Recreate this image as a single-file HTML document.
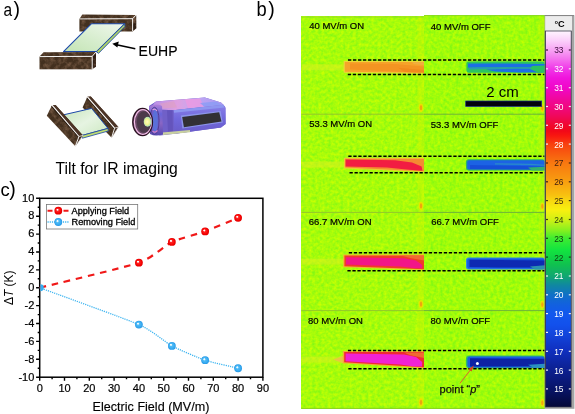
<!DOCTYPE html>
<html><head><meta charset="utf-8"><style>
html,body{margin:0;padding:0;background:#fff;width:575px;height:414px;overflow:hidden}
svg{display:block}
text{font-family:"Liberation Sans",sans-serif}
</style></head><body>
<svg width="575" height="414" viewBox="0 0 575 414">
<defs>
<linearGradient id="cbar" gradientUnits="userSpaceOnUse" x1="0" y1="31.4" x2="0" y2="406.7"><stop offset="0.0000" stop-color="#fff4ff"/><stop offset="0.0245" stop-color="#fbd0fa"/><stop offset="0.0496" stop-color="#f7a4f3"/><stop offset="0.0746" stop-color="#f470ee"/><stop offset="0.0997" stop-color="#f038e8"/><stop offset="0.1242" stop-color="#f014dc"/><stop offset="0.1508" stop-color="#f008c8"/><stop offset="0.1828" stop-color="#f00898"/><stop offset="0.2014" stop-color="#f00880"/><stop offset="0.2228" stop-color="#f00860"/><stop offset="0.2494" stop-color="#f00830"/><stop offset="0.2654" stop-color="#f20818"/><stop offset="0.2787" stop-color="#f81810"/><stop offset="0.3000" stop-color="#f84010"/><stop offset="0.3293" stop-color="#f86010"/><stop offset="0.3507" stop-color="#f87810"/><stop offset="0.3826" stop-color="#f89010"/><stop offset="0.4013" stop-color="#f8a010"/><stop offset="0.4359" stop-color="#f8c010"/><stop offset="0.4519" stop-color="#f8d810"/><stop offset="0.4759" stop-color="#f8f010"/><stop offset="0.4999" stop-color="#d4f014"/><stop offset="0.5185" stop-color="#a4f01c"/><stop offset="0.5318" stop-color="#80f020"/><stop offset="0.5505" stop-color="#40ec30"/><stop offset="0.5825" stop-color="#12e440"/><stop offset="0.6011" stop-color="#10d444"/><stop offset="0.6224" stop-color="#10c050"/><stop offset="0.6517" stop-color="#10a870"/><stop offset="0.6757" stop-color="#1088a0"/><stop offset="0.7024" stop-color="#1070c8"/><stop offset="0.7290" stop-color="#1260e0"/><stop offset="0.7530" stop-color="#1258ee"/><stop offset="0.7823" stop-color="#1250ec"/><stop offset="0.8010" stop-color="#1248e0"/><stop offset="0.8489" stop-color="#1030c0"/><stop offset="0.9022" stop-color="#0c2090"/><stop offset="0.9528" stop-color="#081468"/><stop offset="1.0000" stop-color="#040838"/></linearGradient>
<radialGradient id="rball" cx="0.5" cy="0.5" r="0.5" fx="0.36" fy="0.34">
  <stop offset="0" stop-color="#ffffff"/><stop offset="0.14" stop-color="#ffffff"/>
  <stop offset="0.34" stop-color="#ff2424"/><stop offset="0.8" stop-color="#f40000"/><stop offset="1" stop-color="#e00000"/></radialGradient>
<radialGradient id="bball" cx="0.5" cy="0.5" r="0.5" fx="0.36" fy="0.34">
  <stop offset="0" stop-color="#ffffff"/><stop offset="0.14" stop-color="#f0faff"/>
  <stop offset="0.36" stop-color="#50bcf6"/><stop offset="0.8" stop-color="#34a8f0"/><stop offset="1" stop-color="#2496e4"/></radialGradient>
<filter id="marble" x="0" y="0" width="1" height="1" color-interpolation-filters="sRGB">
  <feTurbulence type="fractalNoise" baseFrequency="0.22" numOctaves="3" seed="7" result="n"/>
  <feColorMatrix in="n" type="matrix" values="0 0 0 0 0.50  0 0 0 0 0.38  0 0 0 0 0.29  1.9 0 0 0 -0.75" result="spots"/>
  <feComposite in="spots" in2="SourceGraphic" operator="atop"/>
</filter>
<filter id="soft" x="-5%" y="-5%" width="110%" height="110%"><feGaussianBlur stdDeviation="0.55"/></filter>
<filter id="tnoiseR" x="0" y="0" width="1" height="1" color-interpolation-filters="sRGB">
  <feTurbulence type="fractalNoise" baseFrequency="0.32" numOctaves="2" seed="3"/>
  <feColorMatrix type="matrix" values="0.4 0 0 0 0.43  0.05 0 0 0 0.965  -0.1 0 0 0 0.09  0 0 0 0 1"/>
</filter>
<filter id="tnoiseL" x="0" y="0" width="1" height="1" color-interpolation-filters="sRGB">
  <feTurbulence type="fractalNoise" baseFrequency="0.32" numOctaves="2" seed="11"/>
  <feColorMatrix type="matrix" values="0.4 0 0 0 0.455  0.05 0 0 0 0.965  -0.1 0 0 0 0.09  0 0 0 0 1"/>
</filter>
<linearGradient id="plateg" x1="1" y1="0" x2="0" y2="1">
  <stop offset="0" stop-color="#f0f8ee"/><stop offset="0.6" stop-color="#d4ecca"/><stop offset="1" stop-color="#c4e4b4"/></linearGradient>
<linearGradient id="plateg2" x1="0" y1="0" x2="1" y2="1">
  <stop offset="0" stop-color="#c8e6bc"/><stop offset="0.5" stop-color="#e6f4e2"/><stop offset="1" stop-color="#cce8c0"/></linearGradient>
<linearGradient id="camtop" x1="0" y1="0" x2="1" y2="0">
  <stop offset="0" stop-color="#b890e8"/><stop offset="0.35" stop-color="#e0a0e0"/><stop offset="0.6" stop-color="#c0a8f4"/><stop offset="1" stop-color="#a898f0"/></linearGradient>
<linearGradient id="camside" x1="0" y1="0" x2="0" y2="1">
  <stop offset="0" stop-color="#8a80e8"/><stop offset="0.5" stop-color="#7068dc"/><stop offset="1" stop-color="#6a5cc8"/></linearGradient>
<linearGradient id="cambar" x1="0" y1="0" x2="0" y2="1">
  <stop offset="0" stop-color="#b080d8"/><stop offset="0.3" stop-color="#6a64d8"/><stop offset="0.6" stop-color="#8a66c4"/><stop offset="1" stop-color="#5448b0"/></linearGradient>
<radialGradient id="lensglow" cx="0.45" cy="0.5" r="0.55">
  <stop offset="0" stop-color="#fcfcc0"/><stop offset="0.5" stop-color="#f4f490"/><stop offset="0.85" stop-color="#b0e0b0"/><stop offset="1" stop-color="#70b0a0"/></radialGradient>
</defs>
<g fill="#000">
<text x="3.4" y="16.2" font-size="18" textLength="8.6" lengthAdjust="spacingAndGlyphs">a</text>
<text x="13.6" y="16.2" font-size="19.5">)</text>
<text x="256.5" y="15.6" font-size="19.6" textLength="10.2" lengthAdjust="spacingAndGlyphs">b</text>
<text x="268.2" y="15.6" font-size="19.5">)</text>
<text x="0.5" y="196" font-size="18" textLength="9.2" lengthAdjust="spacingAndGlyphs">c</text>
<text x="9.3" y="196" font-size="19.5">)</text>
</g>
<g id="thermal">
<rect x="424" y="15.3" width="120.70000000000005" height="393.5" fill="#a2fa06" filter="url(#tnoiseR)"/>
<rect x="301.5" y="16.6" width="122.5" height="392.2" fill="#aef806" filter="url(#tnoiseL)"/>
<rect x="301.5" y="16.6" width="122.5" height="0.8" fill="#90d82a"/>
<rect x="424" y="15.3" width="120.70000000000005" height="0.8" fill="#84d02a"/>
<rect x="301.5" y="407.90000000000003" width="243.20000000000005" height="0.9" fill="#88cc24"/>
<rect x="301.5" y="113.7" width="122.5" height="1" fill="#94c82c"/>
<rect x="424" y="113.7" width="120.70000000000005" height="1" fill="#70b43a"/>
<rect x="301.5" y="211.9" width="122.5" height="1" fill="#94c82c"/>
<rect x="424" y="211.9" width="120.70000000000005" height="1" fill="#70b43a"/>
<rect x="301.5" y="310.1" width="122.5" height="1" fill="#94c82c"/>
<rect x="424" y="310.1" width="120.70000000000005" height="1" fill="#70b43a"/>
<g filter="url(#soft)">
<rect x="417.5" y="17.6" width="6.5" height="95.6" fill="#d8f400" opacity="0.35"/>
<ellipse cx="421" cy="107.7" rx="2.2" ry="4.2" fill="#f0e000" opacity="0.9"/>
<ellipse cx="421" cy="107.7" rx="1.2" ry="2.6" fill="#f0a010" opacity="0.9"/>
<rect x="538.5" y="17.6" width="6.2" height="95.6" fill="#d8f400" opacity="0.25"/>
<ellipse cx="542.3" cy="108.2" rx="2" ry="4" fill="#f0e000" opacity="0.9"/>
<ellipse cx="542.3" cy="108.2" rx="1.1" ry="2.4" fill="#f0a010" opacity="0.9"/>
<rect x="417.5" y="115.2" width="6.5" height="96.2" fill="#d8f400" opacity="0.35"/>
<ellipse cx="421" cy="205.9" rx="2.2" ry="4.2" fill="#f0e000" opacity="0.9"/>
<ellipse cx="421" cy="205.9" rx="1.2" ry="2.6" fill="#f0a010" opacity="0.9"/>
<rect x="538.5" y="115.2" width="6.2" height="96.2" fill="#d8f400" opacity="0.25"/>
<ellipse cx="542.3" cy="206.4" rx="2" ry="4" fill="#f0e000" opacity="0.9"/>
<ellipse cx="542.3" cy="206.4" rx="1.1" ry="2.4" fill="#f0a010" opacity="0.9"/>
<rect x="417.5" y="213.4" width="6.5" height="96.2" fill="#d8f400" opacity="0.35"/>
<ellipse cx="421" cy="304.1" rx="2.2" ry="4.2" fill="#f0e000" opacity="0.9"/>
<ellipse cx="421" cy="304.1" rx="1.2" ry="2.6" fill="#f0a010" opacity="0.9"/>
<rect x="538.5" y="213.4" width="6.2" height="96.2" fill="#d8f400" opacity="0.25"/>
<ellipse cx="542.3" cy="304.6" rx="2" ry="4" fill="#f0e000" opacity="0.9"/>
<ellipse cx="542.3" cy="304.6" rx="1.1" ry="2.4" fill="#f0a010" opacity="0.9"/>
<rect x="417.5" y="311.6" width="6.5" height="96.2" fill="#d8f400" opacity="0.35"/>
<ellipse cx="421" cy="402.3" rx="2.2" ry="4.2" fill="#f0e000" opacity="0.9"/>
<ellipse cx="421" cy="402.3" rx="1.2" ry="2.6" fill="#f0a010" opacity="0.9"/>
<rect x="538.5" y="311.6" width="6.2" height="96.2" fill="#d8f400" opacity="0.25"/>
<ellipse cx="542.3" cy="402.8" rx="2" ry="4" fill="#f0e000" opacity="0.9"/>
<ellipse cx="542.3" cy="402.8" rx="1.1" ry="2.4" fill="#f0a010" opacity="0.9"/>
<rect x="301.5" y="64.3" width="44" height="6" fill="#d8f020" opacity="0.55"/>
<rect x="301.5" y="161.6" width="44" height="6" fill="#d8f020" opacity="0.55"/>
<rect x="301.5" y="258.7" width="44" height="6" fill="#d8f020" opacity="0.55"/>
<rect x="301.5" y="356.6" width="44" height="6" fill="#d8f020" opacity="0.55"/>
</g>
<g filter="url(#soft)">
<!-- Row 1 ON (orange) -->
<polygon points="343.6,60.9 424,60.9 424,73.8 343.6,72.8" fill="#ecd838"/>
<polygon points="344.8,62 424,62 424,72.8 344.8,71.8" fill="#f6a42c"/>
<polygon points="350,63.4 395,64 424,66.5 424,72.4 410,72.2 350,69.6" fill="#f49422"/>
<polygon points="398,67.8 424,70 424,72.4 405,72" fill="#f08a1c"/>
<polygon points="412,62.2 424,62.2 424,65.2 414,64" fill="#f0b040"/>
<!-- Row 1 OFF (teal/blue) -->
<rect x="466.4" y="61.5" width="78.3" height="11.3" rx="2.5" fill="#2cc460"/>
<polygon points="468,63.6 505,63.4 545,64 545,67.4 505,67.2 468,67.8" fill="#1c6ee6"/>
<polygon points="469,67.6 505,67.2 545,67.4 545,69 505,68.8 469,69.4" fill="#2a9cb0"/>
<polygon points="486,69.4 515,68.8 545,69 545,72.2 520,72.4 495,71.6" fill="#1c6ee6"/>
<polygon points="532,66 545,65.6 545,72.6 538,72.6 530,69" fill="#2cc060"/>
<!-- Row 2 ON (red) -->
<polygon points="344,157.8 424,157.8 424,172 344,168.6" fill="#f0c838"/>
<polygon points="345.2,158.8 424,158.8 424,171.2 345.2,167.6" fill="#f48a30"/>
<polygon points="345.6,159.4 395,160.2 412,162.4 421.6,166.4 422.4,170.8 409,169.8 387,167.6 345.6,166.4" fill="#f21c42"/>
<!-- Row 2 OFF (blue) -->
<rect x="466" y="159.2" width="78.7" height="11.2" rx="2.5" fill="#2cb070"/>
<rect x="467.2" y="160.2" width="77.5" height="9.4" rx="1.8" fill="#1a64e4"/>
<polygon points="470,165 500,165.6 545,166.4 545,169.6 470,169" fill="#1450d8"/>
<polygon points="495,163.2 530,163.8 545,164.8 545,165.8 530,165 495,164.6" fill="#2c8cc8"/>
<polygon points="528,167.4 545,166.8 545,170.4 532,170.4" fill="#30b070"/>
<!-- Row 3 ON (pink) -->
<polygon points="343.2,254.4 424,254.4 424,270 343.2,267.2" fill="#f2b834"/>
<polygon points="344.4,255.6 424,255.6 424,269.2 344.4,266.2" fill="#f03c28"/>
<polygon points="402,255.8 424,256 424,260.6 410,258" fill="#f06a30"/>
<polygon points="346,257.2 404,258.2 416,260.6 422.2,265 422,268.2 415,268.2 400,266.6 346,264.4" fill="#f21688"/>
<!-- Row 3 OFF (dark blue) -->
<rect x="466" y="257.4" width="78.7" height="12" rx="2.5" fill="#2a8ae0"/>
<rect x="467.2" y="258.4" width="77.5" height="10.2" rx="2" fill="#1654e0"/>
<polygon points="469.5,259.8 500,260 545,260.6 545,267.4 500,267.6 469.5,267" fill="#0a2cb2"/>
<polygon points="530,266.4 545,265.2 545,269.4 535,269.4" fill="#2a90b0"/>
<!-- Row 4 ON (magenta) -->
<polygon points="333,359.4 344,355.4 344,363.4" fill="#e8c840"/>
<polygon points="342.8,351 424,351 424,368.2 342.8,363.2" fill="#f2ac34"/>
<polygon points="344.2,352 424,352 424,367.3 344.2,362.2" fill="#f02a30"/>
<polygon points="404,352.4 424,352.6 424,358 410,355.2" fill="#f06a30"/>
<polygon points="345.6,353.6 404,354.4 416,357 422.2,362 422,366.4 414,366.4 400,364.6 345.6,361.2" fill="#f024d4"/>
<!-- Row 4 OFF (navy) -->
<rect x="466" y="355.4" width="78.7" height="12.8" rx="3" fill="#30b870"/>
<rect x="467.4" y="356.4" width="77.3" height="11" rx="2.5" fill="#1a5ce2"/>
<polygon points="470,358.2 500,358.4 545,358.8 545,366.2 500,366.6 470,366.4" fill="#0822a4"/>
<polygon points="528,364.8 545,363.8 545,368 534,368" fill="#2a90c0"/>
</g><circle cx="477.4" cy="363.4" r="1.5" fill="#fff"/>
<g font-size="9.5" fill="#000" stroke="#000" stroke-width="0.2">
<text x="309.2" y="29.4">40 MV/m ON</text>
<text x="430.8" y="29.6">40 MV/m OFF</text>
<text x="309.2" y="127.3">53.3 MV/m ON</text>
<text x="430.8" y="127.5">53.3 MV/m OFF</text>
<text x="308.8" y="225">66.7 MV/m ON</text>
<text x="431.2" y="225">66.7 MV/m OFF</text>
<text x="308" y="323.7">80 MV/m ON</text>
<text x="430.5" y="323.7">80 MV/m OFF</text>
</g>
<g stroke="#000" stroke-width="1.5" stroke-dasharray="3.3 1.7" fill="none">
<line x1="348" y1="60.1" x2="544.7" y2="60.1"/>
<line x1="347.8" y1="74.6" x2="544.7" y2="74.6"/>
<line x1="348.3" y1="156.3" x2="544.7" y2="156.3"/>
<line x1="349.5" y1="172.8" x2="544.7" y2="172.8"/>
<line x1="348.8" y1="252.7" x2="544.7" y2="252.7"/>
<line x1="347.4" y1="270.7" x2="544.7" y2="270.7"/>
<line x1="347.9" y1="350.5" x2="544.7" y2="350.5"/>
<line x1="348.3" y1="368.7" x2="544.7" y2="368.7"/>
</g>
<text x="486.3" y="97.3" font-size="15" fill="#000">2 cm</text>
<rect x="465.7" y="101" width="76" height="5.4" fill="#02020e" stroke="#1a2a90" stroke-width="0.7"/>
<line x1="460" y1="383.3" x2="471.5" y2="368.5" stroke="#e06030" stroke-width="1"/>
<polygon points="474,365.6 468.5,369 471.5,371.5" fill="#e04020"/>
<text x="439.6" y="392.5" font-size="11" fill="#111" stroke="#111" stroke-width="0.25">point “<tspan font-style="italic">p</tspan>”</text>
</g>
<g id="colorbar">
<rect x="544.6" y="15.2" width="29.8" height="393.6" fill="#a4a4a4"/>
<rect x="544.6" y="15.2" width="29.3" height="0.9" fill="#7a7a7a"/>
<rect x="545.2" y="16.1" width="26.8" height="14.6" fill="#ececec"/>
<text x="559.6" y="27" font-size="9.2" font-weight="bold" text-anchor="middle" fill="#000">°C</text>
<rect x="544.8" y="30.7" width="26.8" height="376.6" fill="#3c3c4c"/>
<rect x="545.9" y="31.4" width="24.9" height="375.3" fill="url(#cbar)"/>
<g font-size="8.4" text-anchor="middle">
<text x="558.8" y="53.4" fill="#401040">33</text>
<rect x="546" y="49.4" width="2" height="1.2" fill="#401040"/><rect x="568.8" y="49.4" width="2" height="1.2" fill="#401040"/>
<text x="558.8" y="72.2" fill="#ffffff">32</text>
<rect x="546" y="68.2" width="2" height="1.2" fill="#f0f0f0"/><rect x="568.8" y="68.2" width="2" height="1.2" fill="#f0f0f0"/>
<text x="558.8" y="91.1" fill="#ffffff">31</text>
<rect x="546" y="87.1" width="2" height="1.2" fill="#f0f0f0"/><rect x="568.8" y="87.1" width="2" height="1.2" fill="#f0f0f0"/>
<text x="558.8" y="109.9" fill="#ffffff">30</text>
<rect x="546" y="105.9" width="2" height="1.2" fill="#f0f0f0"/><rect x="568.8" y="105.9" width="2" height="1.2" fill="#f0f0f0"/>
<text x="558.8" y="128.7" fill="#ffffff">29</text>
<rect x="546" y="124.7" width="2" height="1.2" fill="#f0f0f0"/><rect x="568.8" y="124.7" width="2" height="1.2" fill="#f0f0f0"/>
<text x="558.8" y="147.5" fill="#ffffff">28</text>
<rect x="546" y="143.5" width="2" height="1.2" fill="#f0f0f0"/><rect x="568.8" y="143.5" width="2" height="1.2" fill="#f0f0f0"/>
<text x="558.8" y="166.4" fill="#402010">27</text>
<rect x="546" y="162.4" width="2" height="1.2" fill="#402010"/><rect x="568.8" y="162.4" width="2" height="1.2" fill="#402010"/>
<text x="558.8" y="185.2" fill="#402010">26</text>
<rect x="546" y="181.2" width="2" height="1.2" fill="#402010"/><rect x="568.8" y="181.2" width="2" height="1.2" fill="#402010"/>
<text x="558.8" y="204.0" fill="#403010">25</text>
<rect x="546" y="200.0" width="2" height="1.2" fill="#403010"/><rect x="568.8" y="200.0" width="2" height="1.2" fill="#403010"/>
<text x="558.8" y="222.9" fill="#304010">24</text>
<rect x="546" y="218.9" width="2" height="1.2" fill="#304010"/><rect x="568.8" y="218.9" width="2" height="1.2" fill="#304010"/>
<text x="558.8" y="241.7" fill="#104010">23</text>
<rect x="546" y="237.7" width="2" height="1.2" fill="#104010"/><rect x="568.8" y="237.7" width="2" height="1.2" fill="#104010"/>
<text x="558.8" y="260.5" fill="#104010">22</text>
<rect x="546" y="256.5" width="2" height="1.2" fill="#104010"/><rect x="568.8" y="256.5" width="2" height="1.2" fill="#104010"/>
<text x="558.8" y="279.4" fill="#ffffff">21</text>
<rect x="546" y="275.4" width="2" height="1.2" fill="#f0f0f0"/><rect x="568.8" y="275.4" width="2" height="1.2" fill="#f0f0f0"/>
<text x="558.8" y="298.2" fill="#ffffff">20</text>
<rect x="546" y="294.2" width="2" height="1.2" fill="#f0f0f0"/><rect x="568.8" y="294.2" width="2" height="1.2" fill="#f0f0f0"/>
<text x="558.8" y="317.0" fill="#ffffff">19</text>
<rect x="546" y="313.0" width="2" height="1.2" fill="#f0f0f0"/><rect x="568.8" y="313.0" width="2" height="1.2" fill="#f0f0f0"/>
<text x="558.8" y="335.8" fill="#ffffff">18</text>
<rect x="546" y="331.8" width="2" height="1.2" fill="#f0f0f0"/><rect x="568.8" y="331.8" width="2" height="1.2" fill="#f0f0f0"/>
<text x="558.8" y="354.7" fill="#ffffff">17</text>
<rect x="546" y="350.7" width="2" height="1.2" fill="#f0f0f0"/><rect x="568.8" y="350.7" width="2" height="1.2" fill="#f0f0f0"/>
<text x="558.8" y="373.5" fill="#ffffff">16</text>
<rect x="546" y="369.5" width="2" height="1.2" fill="#f0f0f0"/><rect x="568.8" y="369.5" width="2" height="1.2" fill="#f0f0f0"/>
<text x="558.8" y="392.3" fill="#ffffff">15</text>
<rect x="546" y="388.3" width="2" height="1.2" fill="#f0f0f0"/><rect x="568.8" y="388.3" width="2" height="1.2" fill="#f0f0f0"/>
</g>
</g>
<g id="illus">
<g filter="url(#marble)"><polygon points="82.3,14.6 136.2,15 132.6,18.7 79.4,18.9" fill="#43301f"/><rect x="79.4" y="18.9" width="53.2" height="12.6" fill="#43301f"/><polygon points="132.6,18.7 136.2,15 136.4,28.2 132.6,31.5" fill="#2e1e14"/></g>
<polyline points="79.6,18.9 132.6,18.7 132.6,31" fill="none" stroke="#fff" stroke-width="0.9"/>
<line x1="132.6" y1="18.7" x2="136.2" y2="15" stroke="#fff" stroke-width="0.9"/>
<polygon points="91.5,23.7 124.8,23.7 96.6,51.6 63.5,51.6" fill="url(#plateg)" stroke="#1c48a8" stroke-width="1.1" stroke-linejoin="round"/>
<polygon points="124.8,23.7 124.9,26.6 98.4,53.4 96.6,51.6" fill="#b4d864" stroke="#1c48a8" stroke-width="0.9" stroke-linejoin="round"/>
<g filter="url(#marble)"><polygon points="43.5,52.3 96,52 92.2,56.3 39.5,56.6" fill="#43301f"/><rect x="39.5" y="56.6" width="52.7" height="12.7" fill="#43301f"/><polygon points="92.2,56.3 96,52 96,66.8 92.2,69.3" fill="#2e1e14"/></g>
<polyline points="39.7,56.6 92.2,56.3 92.2,69" fill="none" stroke="#fff" stroke-width="0.9"/>
<line x1="92.2" y1="56.3" x2="96" y2="52" stroke="#fff" stroke-width="0.9"/>
<line x1="135.3" y1="48.8" x2="116.5" y2="44.7" stroke="#000" stroke-width="1.5"/>
<polygon points="112.3,43.8 118.8,41.6 117.4,47.6" fill="#000"/>
<text x="138.6" y="56.4" font-size="14" fill="#000" stroke="#000" stroke-width="0.15">EUHP</text>
<g filter="url(#marble)"><polygon points="90.80,96.40 118.40,127.00 111.60,137.80 82.60,107.60 87.40,96.80" fill="#43301f"/></g><polygon points="90.80,96.40 118.40,127.00 114.60,128.20 87.40,96.80" fill="#4c3426"/><polygon points="114.60,128.20 118.40,127.00 111.60,137.80" fill="#3a2619"/><line x1="86.85" y1="97.90" x2="114.05" y2="128.70" stroke="#140a04" stroke-width="0.8"/><line x1="87.40" y1="96.80" x2="114.60" y2="128.20" stroke="#fff" stroke-width="1.05"/><line x1="114.60" y1="128.20" x2="111.60" y2="137.80" stroke="#fff" stroke-width="0.95"/><line x1="114.60" y1="128.20" x2="118.40" y2="127.00" stroke="#f0ece8" stroke-width="0.8"/><line x1="118.40" y1="127.00" x2="111.60" y2="137.80" stroke="#e8e4e0" stroke-width="0.6"/>
<polygon points="63.6,114.8 91.6,108.4 108,128.4 81.6,135.6" fill="url(#plateg2)" stroke="#1c48a8" stroke-width="1" stroke-linejoin="round"/>
<polygon points="81.6,135.6 108,128.4 108.3,131 82.4,138.2" fill="#c0dc70" stroke="#1c48a8" stroke-width="0.8" stroke-linejoin="round"/>
<g filter="url(#marble)"><polygon points="55.60,105.00 83.00,135.40 75.30,146.30 46.80,115.70 52.00,105.20" fill="#43301f"/></g><polygon points="55.60,105.00 83.00,135.40 79.00,136.50 52.00,105.20" fill="#4c3426"/><polygon points="79.00,136.50 83.00,135.40 75.30,146.30" fill="#3a2619"/><line x1="51.45" y1="106.30" x2="78.45" y2="137.00" stroke="#140a04" stroke-width="0.8"/><line x1="52.00" y1="105.20" x2="79.00" y2="136.50" stroke="#fff" stroke-width="1.05"/><line x1="79.00" y1="136.50" x2="75.30" y2="146.30" stroke="#fff" stroke-width="0.95"/><line x1="79.00" y1="136.50" x2="83.00" y2="135.40" stroke="#f0ece8" stroke-width="0.8"/><line x1="83.00" y1="135.40" x2="75.30" y2="146.30" stroke="#e8e4e0" stroke-width="0.6"/>
<polygon points="149,106 156,101.5 204.8,97.6 221,102.6 225.2,107 225.6,124 221,127.5 177,133.6 160,135.4 150,131" fill="#6c5cc8"/>
<polygon points="156,101.5 204.8,97.6 221,102.6 223.6,104.8 173.5,110.2 160,109.5 153,104.5" fill="url(#camtop)"/>
<polygon points="173.5,110.2 223.6,104.8 225.6,108 225.6,124 221,127.5 176.5,133.4 173.5,132" fill="url(#camside)"/>
<polygon points="185,99.6 200,98.4 204,106.4 188,108.2" fill="#f098e0" opacity="0.75"/>
<polygon points="200,103 216,101.4 222,104.9 204,106.4" fill="#8c9cf4" opacity="0.85"/>
<polygon points="160,103.4 174,101.2 177,107.6 163,108.6" fill="#e0a0c0" opacity="0.6"/>
<polygon points="173.5,110.2 223.6,104.8 224.4,107.4 174,112.8" fill="#8e96f0"/>
<polygon points="180.8,115.6 220.6,111 222.8,122.6 182.4,128.6" fill="#8c94e8"/>
<polygon points="182.2,116.9 219.2,112.3 221.5,121.5 183.9,127.3" fill="#323034"/>
<polygon points="158,110 173.5,110.2 173.5,132.5 160,134" fill="#7060c8"/>
<polygon points="167,110.2 172.5,110.2 173,132.8 168,133.4" fill="#6454bc"/>
<polygon points="162,132.6 190,130 190,132.2 163,135" fill="#c8d0a0"/>
<path d="M149,106.5 Q156,103 162,106 L163,134 Q156,137 150,134 Z" fill="url(#cambar)"/>
<ellipse cx="154.5" cy="120.8" rx="4.6" ry="13.6" fill="#6c5cc8" stroke="#3a2c70" stroke-width="0.6"/>
<ellipse cx="155.2" cy="120.8" rx="2.6" ry="11.4" fill="#5a70d8"/>
<path d="M152.6,110 Q155,108 157,111" stroke="#e0a0e0" stroke-width="1.2" fill="none"/>
<path d="M152.6,131 Q155,133.5 157.5,130.5" stroke="#d080c8" stroke-width="1.2" fill="none"/>
<ellipse cx="142.6" cy="122" rx="9.9" ry="13.7" fill="#6a4a66" stroke="#2a1020" stroke-width="1.2"/>
<ellipse cx="142.9" cy="122" rx="8.5" ry="12.3" fill="none" stroke="#f2bce6" stroke-width="1.2"/>
<ellipse cx="144" cy="122" rx="7.2" ry="10.8" fill="#4c3a4a"/>
<ellipse cx="147.6" cy="121.8" rx="3.9" ry="5" fill="url(#lensglow)"/>
<text x="55.5" y="173.9" font-size="15.7" fill="#000">Tilt for IR imaging</text>
</g>
<g id="chart">
<path d="M39.70,377.20h-3.6M39.70,368.25h-2.0M39.70,359.31h-3.6M39.70,350.37h-2.0M39.70,341.42h-3.6M39.70,332.48h-2.0M39.70,323.53h-3.6M39.70,314.58h-2.0M39.70,305.64h-3.6M39.70,296.69h-2.0M39.70,287.75h-3.6M39.70,278.81h-2.0M39.70,269.86h-3.6M39.70,260.92h-2.0M39.70,251.97h-3.6M39.70,243.03h-2.0M39.70,234.08h-3.6M39.70,225.14h-2.0M39.70,216.19h-3.6M39.70,207.25h-2.0M39.70,198.30h-3.6M39.70,377.20v3.6M52.10,377.20v2.0M64.50,377.20v3.6M76.90,377.20v2.0M89.30,377.20v3.6M101.70,377.20v2.0M114.10,377.20v3.6M126.50,377.20v2.0M138.90,377.20v3.6M151.30,377.20v2.0M163.70,377.20v3.6M176.10,377.20v2.0M188.50,377.20v3.6M200.90,377.20v2.0M213.30,377.20v3.6M225.70,377.20v2.0M238.10,377.20v3.6M250.50,377.20v2.0M262.90,377.20v3.6" stroke="#000" stroke-width="1.4" fill="none"/>
<rect x="39.70" y="198.30" width="223.20" height="178.90" fill="none" stroke="#000" stroke-width="1.5"/>
<g font-size="11" fill="#000" stroke="#000" stroke-width="0.2"><text x="34.3" y="380.50" text-anchor="end">-10</text><text x="34.3" y="362.61" text-anchor="end">-8</text><text x="34.3" y="344.72" text-anchor="end">-6</text><text x="34.3" y="326.83" text-anchor="end">-4</text><text x="34.3" y="308.94" text-anchor="end">-2</text><text x="34.3" y="291.05" text-anchor="end">0</text><text x="34.3" y="273.16" text-anchor="end">2</text><text x="34.3" y="255.27" text-anchor="end">4</text><text x="34.3" y="237.38" text-anchor="end">6</text><text x="34.3" y="219.49" text-anchor="end">8</text><text x="34.3" y="201.60" text-anchor="end">10</text><text x="39.70" y="392" text-anchor="middle">0</text><text x="64.50" y="392" text-anchor="middle">10</text><text x="89.30" y="392" text-anchor="middle">20</text><text x="114.10" y="392" text-anchor="middle">30</text><text x="138.90" y="392" text-anchor="middle">40</text><text x="163.70" y="392" text-anchor="middle">50</text><text x="188.50" y="392" text-anchor="middle">60</text><text x="213.30" y="392" text-anchor="middle">70</text><text x="238.10" y="392" text-anchor="middle">80</text><text x="262.90" y="392" text-anchor="middle">90</text></g>
<path d="M39.70,287.75 C49.62,285.25 125.68,267.28 138.90,262.70 C152.12,258.12 165.26,245.08 171.88,241.95 C178.51,238.82 198.49,233.81 205.12,231.40 C211.74,228.98 234.80,219.16 238.10,217.80" fill="none" stroke="#f01818" stroke-width="2.2" stroke-dasharray="6.6 5.8" stroke-linejoin="round"/>
<path d="M39.70,287.75 C49.62,291.44 125.68,318.79 138.90,324.60 C152.12,330.42 165.26,342.33 171.88,345.89 C178.51,349.45 198.49,357.97 205.12,360.20 C211.74,362.44 234.80,367.45 238.10,368.25" fill="none" stroke="#3cb4f0" stroke-width="1.3" stroke-dasharray="1.2 1.0"/>
<circle cx="138.90" cy="262.70" r="3.9" fill="url(#rball)"/>
<circle cx="171.88" cy="241.95" r="3.9" fill="url(#rball)"/>
<circle cx="205.12" cy="231.40" r="3.9" fill="url(#rball)"/>
<circle cx="238.10" cy="217.80" r="3.9" fill="url(#rball)"/>
<circle cx="138.90" cy="324.60" r="3.9" fill="url(#bball)"/>
<circle cx="171.88" cy="345.89" r="3.9" fill="url(#bball)"/>
<circle cx="205.12" cy="360.20" r="3.9" fill="url(#bball)"/>
<circle cx="238.10" cy="368.25" r="3.9" fill="url(#bball)"/>
<path d="M40.40,284.35 A3.4,3.4 0 0 1 40.40,291.15 Z" fill="#36aef0"/>
<rect x="46.4" y="204.4" width="91.3" height="24.6" fill="#fff" stroke="#777" stroke-width="0.8"/>
<line x1="47.5" y1="210.7" x2="69" y2="210.7" stroke="#f01818" stroke-width="2" stroke-dasharray="5 3"/>
<circle cx="58.3" cy="210.7" r="3.9" fill="url(#rball)"/>
<line x1="47.5" y1="222" x2="69" y2="222" stroke="#3cb4f0" stroke-width="1.3" stroke-dasharray="1.2 1.0"/>
<circle cx="58.3" cy="222" r="3.9" fill="url(#bball)"/>
<g font-size="9.2" fill="#000" stroke="#000" stroke-width="0.3"><text x="71.5" y="214">Applying Field</text><text x="71.5" y="225">Removing Field</text></g>
<text x="92.6" y="410.5" font-size="12.6" fill="#000" stroke="#000" stroke-width="0.15">Electric Field (MV/m)</text>
<text transform="translate(12.8,287.75) rotate(-90)" text-anchor="middle" font-size="12" fill="#000">Δ<tspan font-style="italic">T</tspan> (K)</text>
</g>
</svg>
</body></html>
